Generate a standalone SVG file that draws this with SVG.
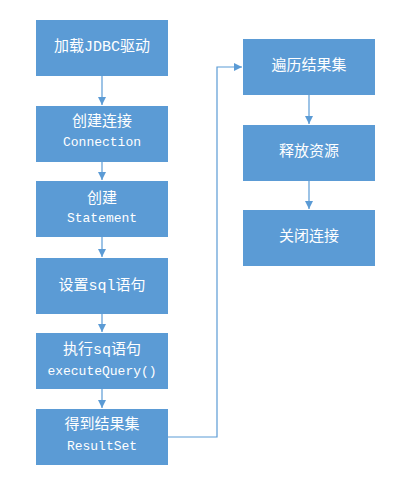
<svg xmlns="http://www.w3.org/2000/svg" width="401" height="498" viewBox="0 0 401 498">
<style>
.box{fill:#5B9BD5;}
.t{fill:#fff;font-family:"Liberation Mono","Noto Sans CJK SC",monospace;text-anchor:middle;dominant-baseline:central;}
.a{font-size:15px;}
.b{font-size:13px;}
.c{fill:none;stroke:#5B9BD5;stroke-width:1.2;}
</style>
<defs>
<marker id="arr" markerWidth="8" markerHeight="8" refX="8" refY="4" orient="auto" markerUnits="userSpaceOnUse">
<path d="M0,0 L8,4 L0,8 Z" fill="#5B9BD5"/>
</marker>
</defs>
<rect width="401" height="498" fill="#fff"/>
<g id="connectors">
<line class="c" x1="102" y1="76" x2="102" y2="105" marker-end="url(#arr)"/>
<line class="c" x1="102" y1="162" x2="102" y2="180" marker-end="url(#arr)"/>
<line class="c" x1="102" y1="237" x2="102" y2="257" marker-end="url(#arr)"/>
<line class="c" x1="102" y1="314" x2="102" y2="332" marker-end="url(#arr)"/>
<line class="c" x1="102" y1="389" x2="102" y2="408" marker-end="url(#arr)"/>
<polyline class="c" points="168,437 217,437 217,67 242,67" marker-end="url(#arr)"/>
<line class="c" x1="309" y1="95" x2="309" y2="124" marker-end="url(#arr)"/>
<line class="c" x1="309" y1="181" x2="309" y2="209" marker-end="url(#arr)"/>
</g>
<g id="n1"><rect class="box" x="36" y="20" width="132" height="56"/><text class="t a" x="102" y="47">加载JDBC驱动</text></g>
<g id="n2"><rect class="box" x="36" y="106" width="132" height="56"/><text class="t a" x="102" y="122">创建连接</text><text class="t b" x="102" y="142">Connection</text></g>
<g id="n3"><rect class="box" x="36" y="181" width="132" height="56"/><text class="t a" x="102" y="199">创建</text><text class="t b" x="102" y="218">Statement</text></g>
<g id="n4"><rect class="box" x="36" y="258" width="132" height="56"/><text class="t a" x="102" y="286">设置sql语句</text></g>
<g id="n5"><rect class="box" x="36" y="333" width="132" height="56"/><text class="t a" x="102" y="350">执行sq语句</text><text class="t b" x="102" y="371">executeQuery()</text></g>
<g id="n6"><rect class="box" x="36" y="409" width="132" height="56"/><text class="t a" x="102" y="425">得到结果集</text><text class="t b" x="102" y="446">ResultSet</text></g>
<g id="n7"><rect class="box" x="243" y="39" width="132" height="56"/><text class="t a" x="309" y="66">遍历结果集</text></g>
<g id="n8"><rect class="box" x="243" y="125" width="132" height="56"/><text class="t a" x="309" y="152">释放资源</text></g>
<g id="n9"><rect class="box" x="243" y="210" width="132" height="56"/><text class="t a" x="309" y="237">关闭连接</text></g>
</svg>
